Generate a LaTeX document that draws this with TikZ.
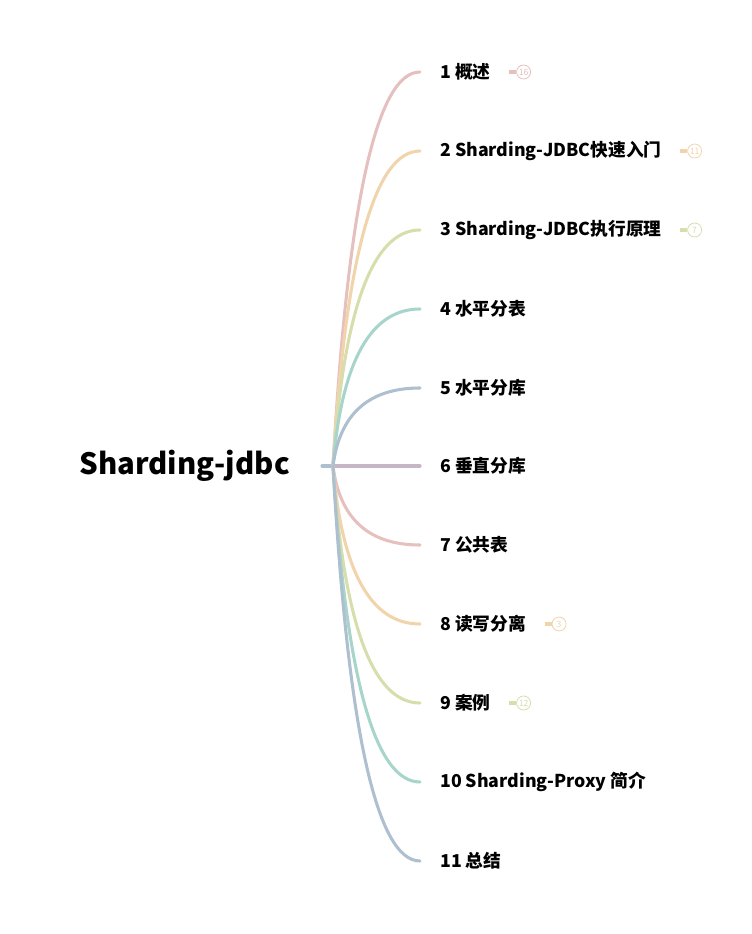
\documentclass[tikz,border=0pt]{standalone}
\usepackage{fontspec}
\setmainfont{Noto Sans CJK SC}
\usetikzlibrary{positioning,calc}

\definecolor{cpink}{HTML}{E6C0BF}
\definecolor{corange}{HTML}{F2D4AC}
\definecolor{colive}{HTML}{D8DDAC}
\definecolor{cteal}{HTML}{A8D5CB}
\definecolor{cblue}{HTML}{AEBFD0}
\definecolor{cmauve}{HTML}{C5B7C6}

\begin{document}
\begin{tikzpicture}[x=0.75pt, y=-0.75pt,
  branch/.style={line width=2.3pt, line cap=round},
  leaf/.style={anchor=west, inner sep=0pt, font=\fontsize{13.3}{16}\selectfont\bfseries},
  badge/.style={circle, draw, line width=0.6pt, minimum size=10.5pt, inner sep=0pt, font=\fontsize{6.5}{7}\selectfont},
  tick/.style={line width=2.3pt}]

\useasboundingbox (0,0) rectangle (752,934);

% Root
\node[anchor=east, inner sep=0pt, font=\fontsize{22}{26}\selectfont\bfseries] (root) at (290,466) {Sharding-jdbc};
\coordinate (stub) at (322,466);
\coordinate (hub) at (333,466);
\draw[branch, cblue] (stub) -- (hub);

% Branch ends
\coordinate (e1) at (420,72);
\coordinate (e2) at (420,151);
\coordinate (e3) at (420,230);
\coordinate (e4) at (420,309);
\coordinate (e5) at (420,388);
\coordinate (e6) at (420,466);
\coordinate (e7) at (420,545);
\coordinate (e8) at (420,624);
\coordinate (e9) at (420,703);
\coordinate (e10) at (420,782);
\coordinate (e11) at (420,861);

% Bend points (one per curved branch)
\coordinate (k1) at ($(hub |- e1)+(22,0)$);
\coordinate (k2) at ($(hub |- e2)+(19,0)$);
\coordinate (k3) at ($(hub |- e3)+(16,0)$);
\coordinate (k4) at ($(hub |- e4)+(13,0)$);
\coordinate (k5) at ($(hub |- e5)+(10,0)$);
\coordinate (k7) at ($(hub |- e7)+(10,0)$);
\coordinate (k8) at ($(hub |- e8)+(13,0)$);
\coordinate (k9) at ($(hub |- e9)+(16,0)$);
\coordinate (k10) at ($(hub |- e10)+(19,0)$);
\coordinate (k11) at ($(hub |- e11)+(22,0)$);

% Branch curves
\draw[branch, cpink] (hub) .. controls ($(hub)!0.667!(k1)$) and ($(e1)!0.667!(k1)$) .. (e1);
\draw[branch, corange] (hub) .. controls ($(hub)!0.667!(k2)$) and ($(e2)!0.667!(k2)$) .. (e2);
\draw[branch, colive] (hub) .. controls ($(hub)!0.667!(k3)$) and ($(e3)!0.667!(k3)$) .. (e3);
\draw[branch, cteal] (hub) .. controls ($(hub)!0.667!(k4)$) and ($(e4)!0.667!(k4)$) .. (e4);
\draw[branch, cblue] (hub) .. controls ($(hub)!0.667!(k5)$) and ($(e5)!0.667!(k5)$) .. (e5);
\draw[branch, cmauve] (hub) -- (e6);
\draw[branch, cpink] (hub) .. controls ($(hub)!0.667!(k7)$) and ($(e7)!0.667!(k7)$) .. (e7);
\draw[branch, corange] (hub) .. controls ($(hub)!0.667!(k8)$) and ($(e8)!0.667!(k8)$) .. (e8);
\draw[branch, colive] (hub) .. controls ($(hub)!0.667!(k9)$) and ($(e9)!0.667!(k9)$) .. (e9);
\draw[branch, cteal] (hub) .. controls ($(hub)!0.667!(k10)$) and ($(e10)!0.667!(k10)$) .. (e10);
\draw[branch, cblue] (hub) .. controls ($(hub)!0.667!(k11)$) and ($(e11)!0.667!(k11)$) .. (e11);

% Labels
\node[leaf, right=15pt of e1] (l1) {1 概述};
\node[leaf, right=15pt of e2] (l2) {2 Sharding-JDBC快速入门};
\node[leaf, right=15pt of e3] (l3) {3 Sharding-JDBC执行原理};
\node[leaf, right=15pt of e4] (l4) {4 水平分表};
\node[leaf, right=15pt of e5] (l5) {5 水平分库};
\node[leaf, right=15pt of e6] (l6) {6 垂直分库};
\node[leaf, right=15pt of e7] (l7) {7 公共表};
\node[leaf, right=15pt of e8] (l8) {8 读写分离};
\node[leaf, right=15pt of e9] (l9) {9 案例};
\node[leaf, right=15pt of e10] (l10) {10 Sharding-Proxy 简介};
\node[leaf, right=15pt of e11] (l11) {11 总结};

% Count badges
\node[badge, cpink, right=19pt of l1] (b1) {16};
\draw[tick, cpink] (b1.west) -- ++(-7,0);
\node[badge, corange, right=19pt of l2] (b2) {11};
\draw[tick, corange] (b2.west) -- ++(-7,0);
\node[badge, colive, right=19pt of l3] (b3) {7};
\draw[tick, colive] (b3.west) -- ++(-7,0);
\node[badge, corange, right=19pt of l8] (b8) {3};
\draw[tick, corange] (b8.west) -- ++(-7,0);
\node[badge, colive, right=19pt of l9] (b9) {12};
\draw[tick, colive] (b9.west) -- ++(-7,0);

\end{tikzpicture}
\end{document}
